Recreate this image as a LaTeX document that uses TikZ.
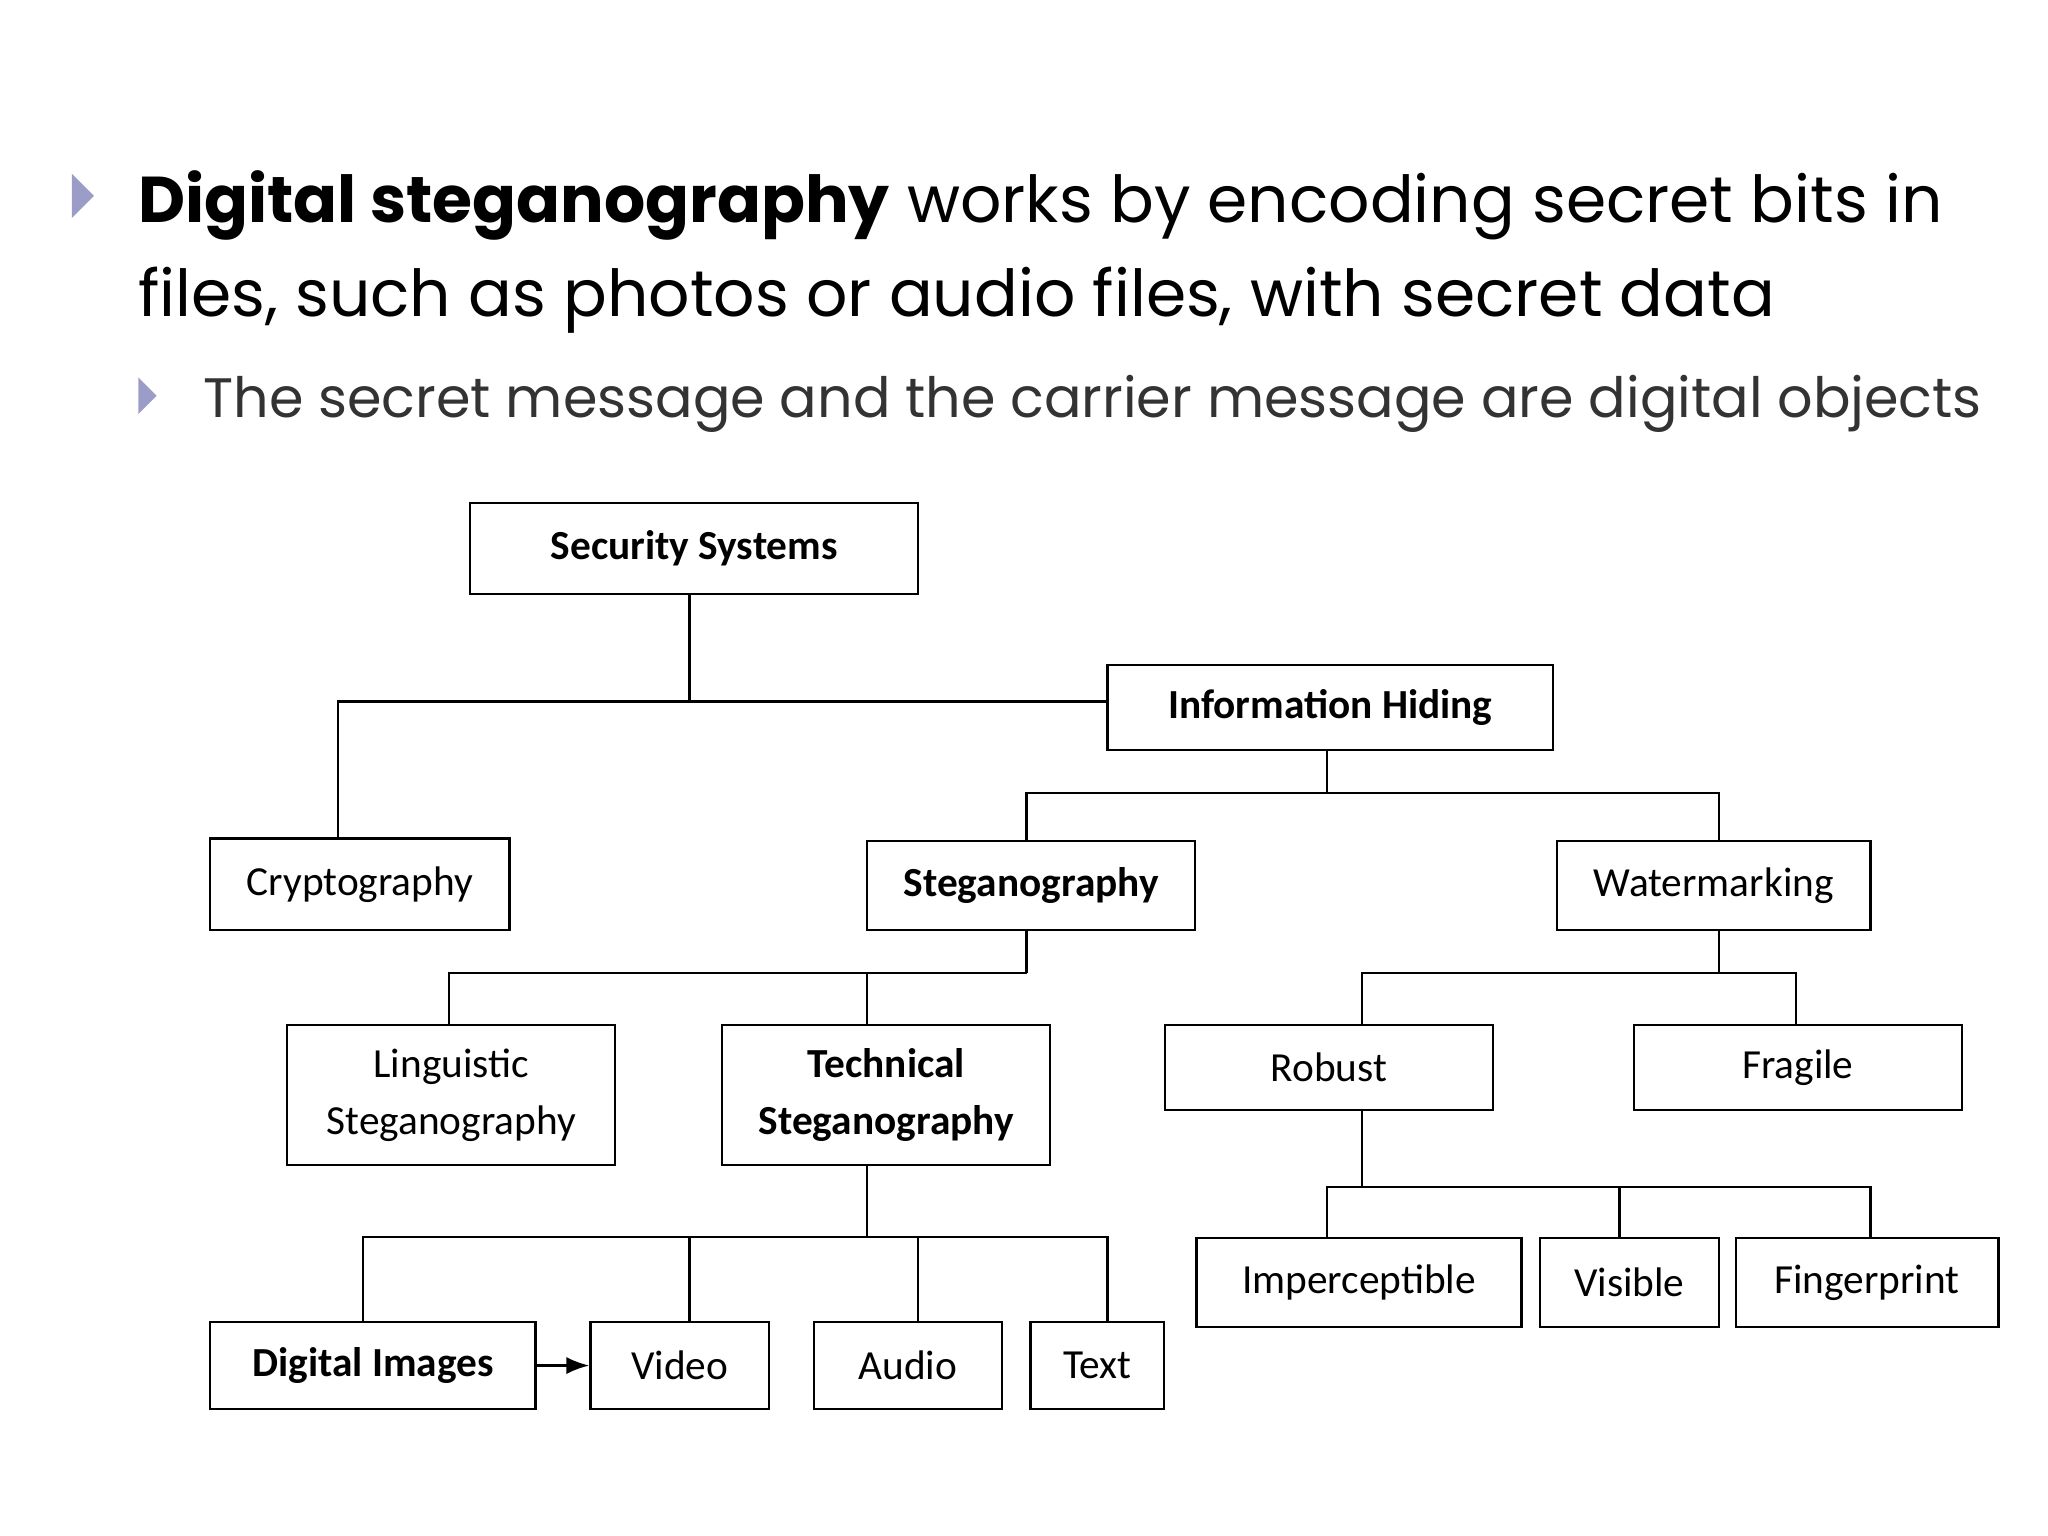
\documentclass[tikz,border=0pt]{standalone}
\usepackage{fontspec}
\setmainfont{Carlito}
\newfontfamily\titlefont{Poppins}
\usetikzlibrary{arrows.meta}
\tikzset{
  box/.style={draw, line width=0.5pt, inner sep=0pt, align=center, font=\fontsize{9}{12.5}\selectfont},
  bbox/.style={box, font=\fontsize{9}{12.5}\selectfont\bfseries},
  conn/.style={line width=0.5pt},
  tri/.style={fill=gray!70!blue!60, draw=none}
}
\newcommand\bx[7][box]{\node[#1, minimum width={(#5-#3)*0.01cm}, minimum height={(#6-#4)*0.01cm}] (#2) at ({(#3+#5)/2},{(#4+#6)/2}) {#7};}
\begin{document}
\begin{tikzpicture}[x=0.01cm,y=-0.01cm]
\useasboundingbox (0,0) rectangle (1568,1176);
% header
\fill[tri] (55,133) -- (72,150) -- (55,167) -- cycle;
\fill[tri] (106,289) -- (120,303) -- (106,317) -- cycle;
\node[anchor=base west, inner sep=0pt, font=\titlefont\fontsize{14.1}{18}\selectfont] (l1) at (105,170) {\textbf{Digital steganography} works by encoding secret bits in};
\node[anchor=base west, inner sep=0pt, font=\titlefont\fontsize{14.1}{18}\selectfont] (l2) at (105,242) {files, such as photos or audio files, with secret data};
\node[anchor=base west, inner sep=0pt, font=\titlefont\fontsize{12.1}{16}\selectfont, text=black!80] (l3) at (155,320) {The secret message and the carrier message are digital objects};
% boxes
\bx[bbox]{sec}{360}{385}{703}{455}{Security Systems}
\bx[bbox]{ih}{848}{509}{1189}{574}{Information Hiding}
\bx{cry}{161}{642}{390}{712}{Cryptography}
\bx[bbox]{ste}{664}{644}{915}{712}{Steganography}
\bx{wat}{1192}{644}{1432}{712}{Watermarking}
\bx{lin}{220}{785}{471}{892}{Linguistic\\Steganography}
\bx[bbox]{tec}{553}{785}{804}{892}{Technical\\Steganography}
\bx{rob}{892}{785}{1143}{850}{Robust}
\bx{fra}{1251}{785}{1502}{850}{Fragile}
\bx{imp}{916}{948}{1165}{1016}{Imperceptible}
\bx{vis}{1179}{948}{1316}{1016}{Visible}
\bx{fin}{1329}{948}{1530}{1016}{Fingerprint}
\bx[bbox]{dig}{161}{1012}{410}{1079}{Digital Images}
\bx{vid}{452}{1012}{589}{1079}{Video}
\bx{aud}{623}{1012}{767}{1079}{Audio}
\bx{txt}{789}{1012}{891}{1079}{Text}
% connectors
\coordinate (j1) at (528,537);
\draw[conn] (sec.south -| j1) -- (j1);
\draw[conn] (j1 -| ih.west) -- (259,537) -- (cry.north -| 259,0);
\coordinate (j2) at (1016,607);
\draw[conn] (ih.south -| j2) -- (j2);
\draw[conn] (ste.north -| 786,0) -- (786,607) -- (1316,607) -- (wat.north -| 1316,0);
\coordinate (j3) at (786,745);
\draw[conn] (ste.south -| j3) -- (j3);
\draw[conn] (lin.north -| 344,0) -- (344,745) -- (664,745) -- (tec.north -| 664,0);
\draw[conn] (664,745) -- (j3);
\coordinate (j4) at (1316,745);
\draw[conn] (wat.south -| j4) -- (j4);
\draw[conn] (rob.north -| 1043,0) -- (1043,745) -- (1375,745) -- (fra.north -| 1375,0);
\coordinate (j5) at (1043,909);
\draw[conn] (rob.south -| j5) -- (j5);
\draw[conn] (imp.north -| 1016,0) -- (1016,909) -- (1432,909) -- (fin.north -| 1432,0);
\draw[conn] (vis.north -| 1240,0) -- (1240,909);
\coordinate (j6) at (664,947);
\draw[conn] (tec.south -| j6) -- (j6);
\draw[conn] (dig.north -| 278,0) -- (278,947) -- (848,947) -- (txt.north -| 848,0);
\draw[conn] (vid.north -| 528,0) -- (528,947);
\draw[conn] (aud.north -| 703,0) -- (703,947);
\draw[conn, -{Latex[length=5pt]}] (dig.east) -- (vid.west);
\end{tikzpicture}
\end{document}
